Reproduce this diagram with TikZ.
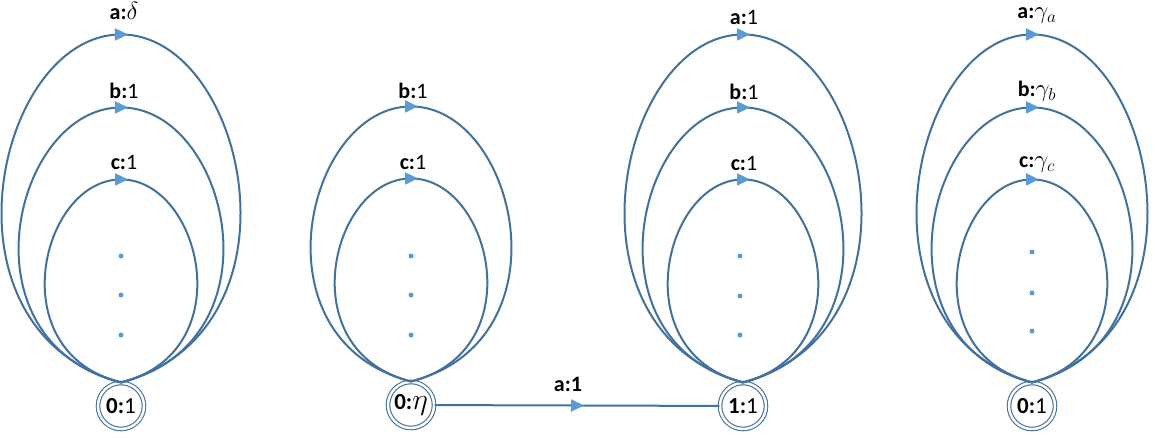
\documentclass[tikz,border=0pt]{standalone}
\usepackage{fontspec}
\setmainfont{Carlito}
\usetikzlibrary{arrows.meta,decorations.markings,calc}
\definecolor{lineblue}{RGB}{65,113,156}
\definecolor{arrowblue}{RGB}{91,155,213}
\tikzset{
  state/.style={circle,draw=lineblue,double=white,double distance=2.4pt,line width=1.1pt,
    minimum size=46pt,inner sep=0pt,font=\fontsize{23}{27}\selectfont},
  loopline/.style={draw=lineblue,line width=2pt,postaction={decorate},
    decoration={markings,mark=at position 0.5 with {\arrow[xshift=7pt]{Triangle[length=13pt,width=12pt,color=arrowblue]}}}},
  lbl/.style={font=\fontsize{22}{26}\selectfont,inner sep=0pt,anchor=base},
  dotmark/.style={circle,fill=arrowblue,inner sep=0pt,minimum size=5pt},
}
\newcommand\selfloop[3]{% node, height, half width
  \draw[loopline] (#1.north) .. controls +({-1.6*#3},{-0.15*#2}) and +({-1.05*#3},0) .. ++(0,{-#2})
    .. controls +({1.05*#3},0) and +({1.6*#3},{-0.15*#2}) .. (#1.north);}
\newcommand\gk[1]{\scalebox{1.2}{$#1$}}
\begin{document}
\begin{tikzpicture}[x=1pt,y=-1pt]
\useasboundingbox (0,0) rectangle (1155,438);
% group 1
\node[state] (g1) at (121,406) {\textbf{0:}1};
\selfloop{g1}{348}{119}
\selfloop{g1}{275}{102}
\selfloop{g1}{203}{76}
\node[lbl] (g1a) at (124,20) {\textbf{a:}\gk{\delta}};
\node[lbl] (g1b) at (124,99) {\textbf{b:}1};
\node[lbl] (g1c) at (124,170) {\textbf{c:}1};
\node[dotmark] (g1d1) at (121,256) {};
\node[dotmark] (g1d2) at (121,295) {};
\node[dotmark] (g1d3) at (121,335) {};
% group 2
\node[state] (g2) at (411,405) {\textbf{0:}\gk{\eta}};
\selfloop{g2}{275}{100}
\selfloop{g2}{203}{76}
\node[lbl] (g2b) at (413,99) {\textbf{b:}1};
\node[lbl] (g2c) at (413,170) {\textbf{c:}1};
\node[dotmark] (g2d1) at (411,256) {};
\node[dotmark] (g2d2) at (411,295) {};
\node[dotmark] (g2d3) at (411,335) {};
% group 3
\node[state] (g3) at (743,406) {\textbf{1:}1};
\selfloop{g3}{348}{118}
\selfloop{g3}{275}{100}
\selfloop{g3}{203}{75}
\node[lbl] (g3a) at (744,25) {\textbf{a:}1};
\node[lbl] (g3b) at (744,100) {\textbf{b:}1};
\node[lbl] (g3c) at (744,171) {\textbf{c:}1};
\node[dotmark] (g3d1) at (740,256) {};
\node[dotmark] (g3d2) at (740,296) {};
\node[dotmark] (g3d3) at (740,335) {};
% group 4
\node[state] (g4) at (1032,406) {\textbf{0:}1};
\selfloop{g4}{348}{115}
\selfloop{g4}{275}{100}
\selfloop{g4}{203}{75}
\node[lbl] (g4a) at (1037,19) {\textbf{a:}\gk{\gamma_a}};
\node[lbl] (g4b) at (1037,97) {\textbf{b:}\gk{\gamma_b}};
\node[lbl] (g4c) at (1037,168) {\textbf{c:}\gk{\gamma_c}};
\node[dotmark] (g4d1) at (1032,252) {};
\node[dotmark] (g4d2) at (1032,293) {};
\node[dotmark] (g4d3) at (1032,331) {};
% edge
\draw[loopline] (g2) -- (g3);
\node[lbl] (ea) at (568,391) {\textbf{a:1}};
\end{tikzpicture}
\end{document}
